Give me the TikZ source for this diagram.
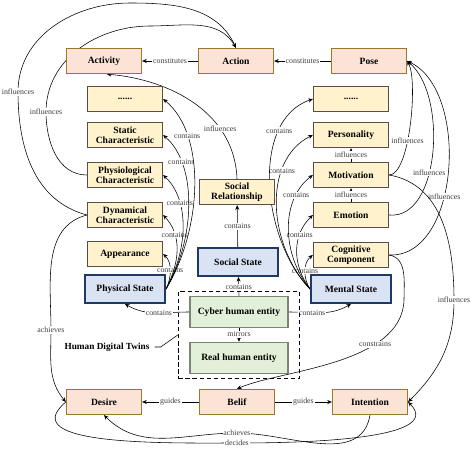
\documentclass[tikz,border=0pt]{standalone}
\usepackage{fontspec}
\setmainfont{Liberation Serif}
\usetikzlibrary{arrows.meta, positioning, fit}

\definecolor{peachfill}{RGB}{251,228,213}
\definecolor{peachline}{RGB}{155,120,45}
\definecolor{creamfill}{RGB}{255,242,204}
\definecolor{creamline}{RGB}{85,80,65}
\definecolor{bluefill}{RGB}{218,227,243}
\definecolor{blueline}{RGB}{31,56,100}
\definecolor{greenfill}{RGB}{226,240,217}
\definecolor{greenline}{RGB}{120,135,115}

\pgfdeclarelayer{bg}
\pgfsetlayers{bg,main}

\tikzset{
  box/.style={draw, line width=0.9pt, minimum width=1.875cm, minimum height=0.625cm, inner sep=1pt, align=center, font=\fontsize{6.8}{7.4}\selectfont\bfseries},
  outer/.style={box, fill=peachfill, draw=peachline},
  part/.style={box, fill=creamfill, draw=creamline},
  statebox/.style={box, fill=bluefill, draw=blueline, line width=1.4pt, minimum width=2cm, minimum height=0.7cm},
  entity/.style={box, fill=greenfill, draw=greenline, line width=1.1pt, minimum width=2.45cm, minimum height=0.775cm},
  twin/.style={draw, dashed, line width=1pt, dash pattern=on 3pt off 2pt},
  lbl/.style={font=\fontsize{5.6}{6}\selectfont, text=black!75, fill=white, inner sep=0.6pt},
}

\begin{document}
\begin{tikzpicture}[x=0.025cm, y=0.025cm, >={Stealth[length=3.3pt,width=2.9pt]}, line width=0.85pt]

\useasboundingbox (0,0) rectangle (474,-452);

% TOP ROW
\node[outer] (act) at (104,-61) {Activity};
\node[outer] (action) at (236,-61) {Action};
\node[outer] (pose) at (369,-61) {Pose};

% PHYSICAL SIDE
\node[part] (ldots) at (125,-99) {......};
\node[part] (static) at (125,-135) {Static\\Characteristic};
\node[part] (physio) at (125,-175) {Physiological\\Characteristic};
\node[part] (dyn) at (125,-215) {Dynamical\\Characteristic};
\node[part] (appear) at (125,-254) {Appearance};
\node[statebox] (phys) at (125,-289) {Physical State};

% SOCIAL SIDE
\node[part] (socrel) at (237,-192) {Social\\Relationship};
\node[statebox] (socst) at (238,-262) {Social State};

% MENTAL SIDE
\node[part] (rdots) at (351,-99) {......};
\node[part] (pers) at (351,-135) {Personality};
\node[part] (motiv) at (351,-175) {Motivation};
\node[part] (emo) at (351,-215) {Emotion};
\node[part] (cogn) at (351,-255) {Cognitive\\Component};
\node[statebox] (ment) at (351,-289) {Mental State};

% DIGITAL TWIN
\node[entity] (cyber) at (239,-312) {Cyber human entity};
\node[entity] (real) at (239,-358) {Real human entity};
\node[twin, fit=(cyber)(real), inner xsep=0.27cm, inner ysep=0.11cm] (hdt) {};
\node[font=\fontsize{6.6}{7}\selectfont\bfseries] (hdtlbl) at (107,-347) {Human Digital Twins};

% BOTTOM ROW
\node[outer] (desire) at (104,-402) {Desire};
\node[outer] (belif) at (237,-402) {Belif};
\node[outer] (intent) at (370,-402) {Intention};

\begin{pgfonlayer}{bg}
% STRAIGHT ARROWS
\path[->] (action) edge node[lbl] {constitutes} (act);
\path[->] (pose) edge node[lbl] {constitutes} (action);
\path[->] (socst) edge node[lbl] {contains} (socrel);
\path[->] (cyber.north) edge node[lbl, pos=0.45] {contains} (socst);
\path[->] (cyber) edge node[lbl, pos=0.45] {mirrors} (real);
\path[->] (motiv) edge node[lbl] {influences} (pers);
\path[->] (emo) edge node[lbl] {influences} (motiv);
\path[->] (belif) edge node[lbl] {guides} (desire);
\path[->] (belif) edge node[lbl] {guides} (intent);
\draw (hdtlbl.east) -- ++(6,0) -- (hdt.west);

% PHYSICAL STATE CONTAINS
\draw[->] (phys.east) .. controls (172,-277) and (172,-262) .. (appear.east) node[lbl, pos=0.5] {contains};
\draw[->] (phys.east) .. controls (180,-262) and (182,-235) .. (dyn.east) node[lbl, pos=0.7] {contains};
\draw[->] (phys.east) .. controls (188,-250) and (190,-200) .. (physio.east) node[lbl, pos=0.7] {contains};
\draw[->] (phys.east) .. controls (195,-240) and (198,-165) .. (static.east) node[lbl, pos=0.77] {contains};
\draw[->] (phys.east) .. controls (202,-230) and (207,-135) .. (ldots.east) node[lbl, pos=0.75] {contains};

% MENTAL STATE CONTAINS
\draw[->] (ment.west) .. controls (303,-278) and (303,-263) .. (cogn.west) node[lbl, pos=0.5] {contains};
\draw[->] (ment.west) .. controls (292,-265) and (292,-235) .. (emo.west) node[lbl, pos=0.7] {contains};
\draw[->] (ment.west) .. controls (282,-255) and (280,-200) .. (motiv.west) node[lbl, pos=0.78] {contains};
\draw[->] (ment.west) .. controls (268,-245) and (262,-160) .. (pers.west) node[lbl, pos=0.7] {contains};
\draw[->] (ment.west) .. controls (262,-240) and (250,-120) .. (rdots.west) node[lbl, pos=0.75] {contains};

% CYBER ENTITY CONTAINS
\draw[->] (cyber.west) to[out=180,in=-30] node[lbl, pos=0.45] {contains} (phys.south);
\draw[->] (cyber.east) to[out=0,in=-150] node[lbl, pos=0.35] {contains} (ment.south);

% INFLUENCES ON ACTIVITY AND ACTION
\draw[->] (socrel.north) to[out=92,in=-5] node[lbl, pos=0.3] {influences} ([xshift=2pt]act.south);
\draw[->] (physio.west) to[out=180,in=-90] (46,-112) node[lbl] {influences}
      to[out=90,in=180] (150,-26) to[out=0,in=120] (action.north);
\draw[->] (dyn.west) to[out=165,in=-90] (18,-92) node[lbl] {influences}
      to[out=90,in=180] (130,-3) to[out=0,in=115] (action.north);

% INFLUENCES ON POSE
\draw[->] (motiv.east) .. controls (410,-175) and (418,-80) .. (pose.east) node[lbl, pos=0.4] {influences};
\draw[->] (emo.east) .. controls (440,-220) and (448,-95) .. (pose.east) node[lbl, pos=0.4] {influences};
\draw[->] (cogn.east) .. controls (460,-258) and (470,-90) .. (pose.east) node[lbl, pos=0.4] {influences};

% TOWARDS THE BOTTOM ROW
\draw[->] (dyn.west) to[out=195,in=90] (51,-330) node[lbl] {achieves}
      to[out=-90,in=130] (desire.west);
\draw[->] (motiv.east) to[out=-10,in=90] (454,-300) node[lbl] {influences}
      to[out=-90,in=45] (intent.east);
\draw[->] (cogn.east) to[out=-10,in=90] (404,-300)
      .. controls (402,-365) and (280,-370) .. (belif.north) node[lbl, pos=0.3] {constrains};
\draw[->] (intent.south) to[out=-100,in=0] (237,-433) node[lbl] {achieves}
      to[out=180,in=-45] (desire.south);
\draw[->] (desire.west) to[out=220,in=180] (237,-443) node[lbl] {decides}
      to[out=0,in=-45, looseness=0.8] (intent.east);
\end{pgfonlayer}

\end{tikzpicture}
\end{document}
